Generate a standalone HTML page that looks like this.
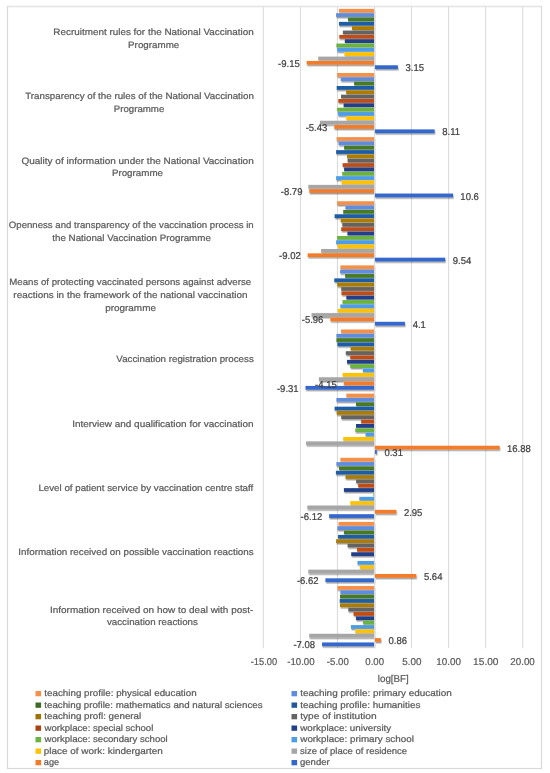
<!DOCTYPE html>
<html><head><meta charset="utf-8"><style>
html,body{margin:0;padding:0;background:#fff;}
body{width:550px;height:773px;position:relative;overflow:hidden;}
svg{position:absolute;left:0;top:0;font-family:"Liberation Sans",sans-serif;filter:blur(0.45px);}
</style></head><body>
<svg width="550" height="773" viewBox="0 0 550 773" text-rendering="geometricPrecision">
<defs><filter id="sh" x="-5%" y="-50%" width="110%" height="250%"><feDropShadow dx="0.6" dy="1.5" stdDeviation="0.75" flood-color="#000" flood-opacity="0.38"/></filter></defs>
<rect x="7.5" y="6.5" width="534" height="762" fill="#fff" stroke="#D9D9D9" stroke-width="1.2"/>
<line x1="8.2" y1="6.5" x2="540.8" y2="6.5" stroke="#E6E6E6" stroke-width="1.3"/>
<line x1="263.29" y1="6.88" x2="263.29" y2="648.18" stroke="#D9D9D9" stroke-width="1"/>
<line x1="300.36" y1="6.88" x2="300.36" y2="648.18" stroke="#D9D9D9" stroke-width="1"/>
<line x1="337.43" y1="6.88" x2="337.43" y2="648.18" stroke="#D9D9D9" stroke-width="1"/>
<line x1="374.50" y1="6.88" x2="374.50" y2="648.18" stroke="#D9D9D9" stroke-width="1"/>
<line x1="411.57" y1="6.88" x2="411.57" y2="648.18" stroke="#D9D9D9" stroke-width="1"/>
<line x1="448.64" y1="6.88" x2="448.64" y2="648.18" stroke="#D9D9D9" stroke-width="1"/>
<line x1="485.71" y1="6.88" x2="485.71" y2="648.18" stroke="#D9D9D9" stroke-width="1"/>
<line x1="522.78" y1="6.88" x2="522.78" y2="648.18" stroke="#D9D9D9" stroke-width="1"/>
<g filter="url(#sh)">
<rect x="339.00" y="8.85" width="35.50" height="3.75" fill="#F5904A"/>
<rect x="336.10" y="13.19" width="38.40" height="3.75" fill="#5F8CDD"/>
<rect x="348.00" y="17.53" width="26.50" height="3.75" fill="#477A27"/>
<rect x="339.00" y="21.87" width="35.50" height="3.75" fill="#1E5DA6"/>
<rect x="351.90" y="26.21" width="22.60" height="3.75" fill="#AC7B00"/>
<rect x="342.90" y="30.55" width="31.60" height="3.75" fill="#646464"/>
<rect x="339.30" y="34.89" width="35.20" height="3.75" fill="#C04D12"/>
<rect x="344.80" y="39.23" width="29.70" height="3.75" fill="#213F8A"/>
<rect x="336.40" y="43.57" width="38.10" height="3.75" fill="#6AB33F"/>
<rect x="337.20" y="47.91" width="37.30" height="3.75" fill="#4E9CE6"/>
<rect x="344.40" y="52.25" width="30.10" height="3.75" fill="#FFC200"/>
<rect x="318.20" y="56.59" width="56.30" height="3.75" fill="#A6A6A6"/>
<rect x="306.66" y="60.93" width="67.84" height="3.75" fill="#F27B2A"/>
<rect x="374.90" y="65.27" width="22.95" height="3.75" fill="#3467CC"/>
<rect x="337.10" y="72.98" width="37.40" height="3.75" fill="#F5904A"/>
<rect x="340.70" y="77.32" width="33.80" height="3.75" fill="#5F8CDD"/>
<rect x="354.10" y="81.66" width="20.40" height="3.75" fill="#477A27"/>
<rect x="336.70" y="86.00" width="37.80" height="3.75" fill="#1E5DA6"/>
<rect x="346.10" y="90.34" width="28.40" height="3.75" fill="#AC7B00"/>
<rect x="341.00" y="94.68" width="33.50" height="3.75" fill="#646464"/>
<rect x="338.30" y="99.02" width="36.20" height="3.75" fill="#C04D12"/>
<rect x="343.60" y="103.36" width="30.90" height="3.75" fill="#213F8A"/>
<rect x="337.10" y="107.70" width="37.40" height="3.75" fill="#6AB33F"/>
<rect x="338.10" y="112.04" width="36.40" height="3.75" fill="#4E9CE6"/>
<rect x="346.30" y="116.38" width="28.20" height="3.75" fill="#FFC200"/>
<rect x="319.90" y="120.72" width="54.60" height="3.75" fill="#A6A6A6"/>
<rect x="334.24" y="125.06" width="40.26" height="3.75" fill="#F27B2A"/>
<rect x="374.90" y="129.40" width="59.73" height="3.75" fill="#3467CC"/>
<rect x="336.70" y="137.11" width="37.80" height="3.75" fill="#F5904A"/>
<rect x="338.50" y="141.45" width="36.00" height="3.75" fill="#5F8CDD"/>
<rect x="344.10" y="145.79" width="30.40" height="3.75" fill="#477A27"/>
<rect x="336.10" y="150.13" width="38.40" height="3.75" fill="#1E5DA6"/>
<rect x="347.00" y="154.47" width="27.50" height="3.75" fill="#AC7B00"/>
<rect x="347.60" y="158.81" width="26.90" height="3.75" fill="#646464"/>
<rect x="342.60" y="163.15" width="31.90" height="3.75" fill="#C04D12"/>
<rect x="344.10" y="167.49" width="30.40" height="3.75" fill="#213F8A"/>
<rect x="342.20" y="171.83" width="32.30" height="3.75" fill="#6AB33F"/>
<rect x="336.10" y="176.17" width="38.40" height="3.75" fill="#4E9CE6"/>
<rect x="341.50" y="180.51" width="33.00" height="3.75" fill="#FFC200"/>
<rect x="308.30" y="184.85" width="66.20" height="3.75" fill="#A6A6A6"/>
<rect x="309.33" y="189.19" width="65.17" height="3.75" fill="#F27B2A"/>
<rect x="374.90" y="193.53" width="78.19" height="3.75" fill="#3467CC"/>
<rect x="337.10" y="201.24" width="37.40" height="3.75" fill="#F5904A"/>
<rect x="345.40" y="205.58" width="29.10" height="3.75" fill="#5F8CDD"/>
<rect x="343.20" y="209.92" width="31.30" height="3.75" fill="#477A27"/>
<rect x="334.60" y="214.26" width="39.90" height="3.75" fill="#1E5DA6"/>
<rect x="340.70" y="218.60" width="33.80" height="3.75" fill="#AC7B00"/>
<rect x="342.30" y="222.94" width="32.20" height="3.75" fill="#646464"/>
<rect x="341.20" y="227.28" width="33.30" height="3.75" fill="#C04D12"/>
<rect x="347.40" y="231.62" width="27.10" height="3.75" fill="#213F8A"/>
<rect x="337.10" y="235.96" width="37.40" height="3.75" fill="#6AB33F"/>
<rect x="336.10" y="240.30" width="38.40" height="3.75" fill="#4E9CE6"/>
<rect x="337.80" y="244.64" width="36.70" height="3.75" fill="#FFC200"/>
<rect x="321.10" y="248.98" width="53.40" height="3.75" fill="#A6A6A6"/>
<rect x="307.63" y="253.32" width="66.87" height="3.75" fill="#F27B2A"/>
<rect x="374.90" y="257.66" width="70.33" height="3.75" fill="#3467CC"/>
<rect x="340.40" y="265.37" width="34.10" height="3.75" fill="#F5904A"/>
<rect x="340.10" y="269.71" width="34.40" height="3.75" fill="#5F8CDD"/>
<rect x="345.10" y="274.05" width="29.40" height="3.75" fill="#477A27"/>
<rect x="334.30" y="278.39" width="40.20" height="3.75" fill="#1E5DA6"/>
<rect x="337.20" y="282.73" width="37.30" height="3.75" fill="#AC7B00"/>
<rect x="341.20" y="287.07" width="33.30" height="3.75" fill="#646464"/>
<rect x="341.50" y="291.41" width="33.00" height="3.75" fill="#C04D12"/>
<rect x="346.30" y="295.75" width="28.20" height="3.75" fill="#213F8A"/>
<rect x="342.50" y="300.09" width="32.00" height="3.75" fill="#6AB33F"/>
<rect x="340.30" y="304.43" width="34.20" height="3.75" fill="#4E9CE6"/>
<rect x="337.80" y="308.77" width="36.70" height="3.75" fill="#FFC200"/>
<rect x="311.60" y="313.11" width="62.90" height="3.75" fill="#A6A6A6"/>
<rect x="330.31" y="317.45" width="44.19" height="3.75" fill="#F27B2A"/>
<rect x="374.90" y="321.79" width="30.00" height="3.75" fill="#3467CC"/>
<rect x="341.00" y="329.50" width="33.50" height="3.75" fill="#F5904A"/>
<rect x="336.40" y="333.84" width="38.10" height="3.75" fill="#5F8CDD"/>
<rect x="336.40" y="338.18" width="38.10" height="3.75" fill="#477A27"/>
<rect x="337.40" y="342.52" width="37.10" height="3.75" fill="#1E5DA6"/>
<rect x="350.60" y="346.86" width="23.90" height="3.75" fill="#AC7B00"/>
<rect x="345.80" y="351.20" width="28.70" height="3.75" fill="#646464"/>
<rect x="350.20" y="355.54" width="24.30" height="3.75" fill="#C04D12"/>
<rect x="347.00" y="359.88" width="27.50" height="3.75" fill="#213F8A"/>
<rect x="350.20" y="364.22" width="24.30" height="3.75" fill="#6AB33F"/>
<rect x="362.80" y="368.56" width="11.70" height="3.75" fill="#4E9CE6"/>
<rect x="342.60" y="372.90" width="31.90" height="3.75" fill="#FFC200"/>
<rect x="318.90" y="377.24" width="55.60" height="3.75" fill="#A6A6A6"/>
<rect x="343.73" y="381.58" width="30.77" height="3.75" fill="#F27B2A"/>
<rect x="305.48" y="385.92" width="69.02" height="3.75" fill="#3467CC"/>
<rect x="346.30" y="393.63" width="28.20" height="3.75" fill="#F5904A"/>
<rect x="336.40" y="397.97" width="38.10" height="3.75" fill="#5F8CDD"/>
<rect x="356.00" y="402.31" width="18.50" height="3.75" fill="#477A27"/>
<rect x="334.60" y="406.65" width="39.90" height="3.75" fill="#1E5DA6"/>
<rect x="336.70" y="410.99" width="37.80" height="3.75" fill="#AC7B00"/>
<rect x="341.20" y="415.33" width="33.30" height="3.75" fill="#646464"/>
<rect x="361.10" y="419.67" width="13.40" height="3.75" fill="#C04D12"/>
<rect x="356.00" y="424.01" width="18.50" height="3.75" fill="#213F8A"/>
<rect x="355.30" y="428.35" width="19.20" height="3.75" fill="#6AB33F"/>
<rect x="365.50" y="432.69" width="9.00" height="3.75" fill="#4E9CE6"/>
<rect x="343.20" y="437.03" width="31.30" height="3.75" fill="#FFC200"/>
<rect x="306.10" y="441.37" width="68.40" height="3.75" fill="#A6A6A6"/>
<rect x="374.90" y="445.71" width="124.75" height="3.75" fill="#F27B2A"/>
<rect x="374.90" y="450.05" width="1.90" height="3.75" fill="#3467CC"/>
<rect x="340.40" y="457.76" width="34.10" height="3.75" fill="#F5904A"/>
<rect x="336.40" y="462.10" width="38.10" height="3.75" fill="#5F8CDD"/>
<rect x="339.00" y="466.44" width="35.50" height="3.75" fill="#477A27"/>
<rect x="335.90" y="470.78" width="38.60" height="3.75" fill="#1E5DA6"/>
<rect x="345.50" y="475.12" width="29.00" height="3.75" fill="#AC7B00"/>
<rect x="356.10" y="479.46" width="18.40" height="3.75" fill="#646464"/>
<rect x="358.20" y="483.80" width="16.30" height="3.75" fill="#C04D12"/>
<rect x="343.90" y="488.14" width="30.60" height="3.75" fill="#213F8A"/>
<rect x="373.40" y="492.48" width="1.10" height="3.75" fill="#6AB33F"/>
<rect x="359.30" y="496.82" width="15.20" height="3.75" fill="#4E9CE6"/>
<rect x="350.20" y="501.16" width="24.30" height="3.75" fill="#FFC200"/>
<rect x="307.30" y="505.50" width="67.20" height="3.75" fill="#A6A6A6"/>
<rect x="374.90" y="509.84" width="21.47" height="3.75" fill="#F27B2A"/>
<rect x="329.13" y="514.18" width="45.37" height="3.75" fill="#3467CC"/>
<rect x="338.50" y="521.89" width="36.00" height="3.75" fill="#F5904A"/>
<rect x="337.40" y="526.23" width="37.10" height="3.75" fill="#5F8CDD"/>
<rect x="343.90" y="530.57" width="30.60" height="3.75" fill="#477A27"/>
<rect x="338.10" y="534.91" width="36.40" height="3.75" fill="#1E5DA6"/>
<rect x="336.10" y="539.25" width="38.40" height="3.75" fill="#AC7B00"/>
<rect x="347.60" y="543.59" width="26.90" height="3.75" fill="#646464"/>
<rect x="357.00" y="547.93" width="17.50" height="3.75" fill="#C04D12"/>
<rect x="351.20" y="552.27" width="23.30" height="3.75" fill="#213F8A"/>
<rect x="357.50" y="560.95" width="17.00" height="3.75" fill="#4E9CE6"/>
<rect x="359.90" y="565.29" width="14.60" height="3.75" fill="#FFC200"/>
<rect x="308.30" y="569.63" width="66.20" height="3.75" fill="#A6A6A6"/>
<rect x="374.90" y="573.97" width="41.41" height="3.75" fill="#F27B2A"/>
<rect x="325.42" y="578.31" width="49.08" height="3.75" fill="#3467CC"/>
<rect x="337.50" y="586.02" width="37.00" height="3.75" fill="#F5904A"/>
<rect x="340.40" y="590.36" width="34.10" height="3.75" fill="#5F8CDD"/>
<rect x="340.00" y="594.70" width="34.50" height="3.75" fill="#477A27"/>
<rect x="339.70" y="599.04" width="34.80" height="3.75" fill="#1E5DA6"/>
<rect x="340.00" y="603.38" width="34.50" height="3.75" fill="#AC7B00"/>
<rect x="348.30" y="607.72" width="26.20" height="3.75" fill="#646464"/>
<rect x="353.50" y="612.06" width="21.00" height="3.75" fill="#C04D12"/>
<rect x="356.00" y="616.40" width="18.50" height="3.75" fill="#213F8A"/>
<rect x="363.00" y="620.74" width="11.50" height="3.75" fill="#6AB33F"/>
<rect x="350.90" y="625.08" width="23.60" height="3.75" fill="#4E9CE6"/>
<rect x="355.30" y="629.42" width="19.20" height="3.75" fill="#FFC200"/>
<rect x="309.20" y="633.76" width="65.30" height="3.75" fill="#A6A6A6"/>
<rect x="374.90" y="638.10" width="5.98" height="3.75" fill="#F27B2A"/>
<rect x="322.01" y="642.44" width="52.49" height="3.75" fill="#3467CC"/>
</g>
<line x1="374.5" y1="6.88" x2="374.5" y2="648.18" stroke="#D9D9D9" stroke-width="1"/>
<g font-size="9.9" fill="#404040" stroke="#404040" stroke-width="0.22">
<text x="278.04" y="66.91" textLength="21.72" lengthAdjust="spacingAndGlyphs">-9.15</text>
<text x="405.49" y="71.25" textLength="18.55" lengthAdjust="spacingAndGlyphs">3.15</text>
<text x="305.64" y="131.03" textLength="21.72" lengthAdjust="spacingAndGlyphs">-5.43</text>
<text x="442.21" y="135.37" textLength="17.84" lengthAdjust="spacingAndGlyphs">8.11</text>
<text x="280.76" y="195.16" textLength="21.72" lengthAdjust="spacingAndGlyphs">-8.79</text>
<text x="460.36" y="199.50" textLength="18.55" lengthAdjust="spacingAndGlyphs">10.6</text>
<text x="279.09" y="259.30" textLength="21.72" lengthAdjust="spacingAndGlyphs">-9.02</text>
<text x="452.78" y="263.63" textLength="18.55" lengthAdjust="spacingAndGlyphs">9.54</text>
<text x="301.71" y="323.42" textLength="21.72" lengthAdjust="spacingAndGlyphs">-5.96</text>
<text x="412.68" y="327.76" textLength="13.25" lengthAdjust="spacingAndGlyphs">4.1</text>
<text x="315.11" y="387.55" textLength="21.72" lengthAdjust="spacingAndGlyphs">-4.15</text>
<text x="276.92" y="391.89" textLength="21.72" lengthAdjust="spacingAndGlyphs">-9.31</text>
<text x="506.92" y="451.68" textLength="23.85" lengthAdjust="spacingAndGlyphs">16.88</text>
<text x="384.43" y="456.02" textLength="18.55" lengthAdjust="spacingAndGlyphs">0.31</text>
<text x="403.89" y="515.81" textLength="18.55" lengthAdjust="spacingAndGlyphs">2.95</text>
<text x="300.59" y="520.15" textLength="21.72" lengthAdjust="spacingAndGlyphs">-6.12</text>
<text x="423.93" y="579.95" textLength="18.55" lengthAdjust="spacingAndGlyphs">5.64</text>
<text x="296.88" y="584.28" textLength="21.72" lengthAdjust="spacingAndGlyphs">-6.62</text>
<text x="388.50" y="644.08" textLength="18.55" lengthAdjust="spacingAndGlyphs">0.86</text>
<text x="293.40" y="648.41" textLength="21.72" lengthAdjust="spacingAndGlyphs">-7.08</text>
</g>
<g font-size="10" fill="#595959" stroke="#595959" stroke-width="0.22">
<text x="250.69" y="664.8" textLength="26.38" lengthAdjust="spacingAndGlyphs">-15.00</text>
<text x="287.17" y="664.8" textLength="27.41" lengthAdjust="spacingAndGlyphs">-10.00</text>
<text x="326.87" y="664.8" textLength="21.90" lengthAdjust="spacingAndGlyphs">-5.00</text>
<text x="365.33" y="664.8" textLength="18.65" lengthAdjust="spacingAndGlyphs">0.00</text>
<text x="402.21" y="664.8" textLength="19.18" lengthAdjust="spacingAndGlyphs">5.00</text>
<text x="436.25" y="664.8" textLength="24.74" lengthAdjust="spacingAndGlyphs">10.00</text>
<text x="473.13" y="664.8" textLength="25.37" lengthAdjust="spacingAndGlyphs">15.00</text>
<text x="510.31" y="664.8" textLength="24.47" lengthAdjust="spacingAndGlyphs">20.00</text>
<text x="377.84" y="682.0" textLength="30.95" lengthAdjust="spacingAndGlyphs">log[BF]</text>
</g>
<rect x="35.5" y="691.00" width="5.6" height="5.3" fill="#F5904A"/>
<rect x="291.5" y="691.00" width="5.6" height="5.3" fill="#5F8CDD"/>
<rect x="35.5" y="702.50" width="5.6" height="5.3" fill="#3F6A28"/>
<rect x="291.5" y="702.50" width="5.6" height="5.3" fill="#22589A"/>
<rect x="35.5" y="714.00" width="5.6" height="5.3" fill="#9E7400"/>
<rect x="291.5" y="714.00" width="5.6" height="5.3" fill="#646464"/>
<rect x="35.5" y="725.50" width="5.6" height="5.3" fill="#A8440F"/>
<rect x="291.5" y="725.50" width="5.6" height="5.3" fill="#213F8A"/>
<rect x="35.5" y="737.00" width="5.6" height="5.3" fill="#6AB33F"/>
<rect x="291.5" y="737.00" width="5.6" height="5.3" fill="#4E9CE6"/>
<rect x="35.5" y="748.50" width="5.6" height="5.3" fill="#FFC200"/>
<rect x="291.5" y="748.50" width="5.6" height="5.3" fill="#A6A6A6"/>
<rect x="35.5" y="760.00" width="5.6" height="5.3" fill="#F27B2A"/>
<rect x="291.5" y="760.00" width="5.6" height="5.3" fill="#3467CC"/>
<g font-size="9.0" fill="#595959" stroke="#595959" stroke-width="0.22">
<text x="44.35" y="696.30" textLength="152.28" lengthAdjust="spacingAndGlyphs">teaching profile: physical education</text>
<text x="300.15" y="696.30" textLength="151.69" lengthAdjust="spacingAndGlyphs">teaching profile: primary education</text>
<text x="44.35" y="707.80" textLength="218.20" lengthAdjust="spacingAndGlyphs">teaching profile: mathematics and natural sciences</text>
<text x="300.15" y="707.80" textLength="120.31" lengthAdjust="spacingAndGlyphs">teaching profile: humanities</text>
<text x="44.35" y="719.30" textLength="96.90" lengthAdjust="spacingAndGlyphs">teaching profl: general</text>
<text x="300.15" y="719.30" textLength="76.52" lengthAdjust="spacingAndGlyphs">type of institution</text>
<text x="44.51" y="730.80" textLength="108.83" lengthAdjust="spacingAndGlyphs">workplace: special school</text>
<text x="300.31" y="730.80" textLength="90.90" lengthAdjust="spacingAndGlyphs">workplace: university</text>
<text x="44.51" y="742.30" textLength="123.23" lengthAdjust="spacingAndGlyphs">workplace: secondary school</text>
<text x="300.31" y="742.30" textLength="113.54" lengthAdjust="spacingAndGlyphs">workplace: primary school</text>
<text x="43.86" y="753.80" textLength="118.98" lengthAdjust="spacingAndGlyphs">place of work: kindergarten</text>
<text x="300.04" y="753.80" textLength="107.09" lengthAdjust="spacingAndGlyphs">size of place of residence</text>
<text x="43.81" y="765.30" textLength="15.30" lengthAdjust="spacingAndGlyphs">age</text>
<text x="299.90" y="765.30" textLength="29.86" lengthAdjust="spacingAndGlyphs">gender</text>
</g>
<g font-size="9.2" fill="#595959" stroke="#595959" stroke-width="0.22">
<text x="53.39" y="35.36" textLength="200.46" lengthAdjust="spacingAndGlyphs">Recruitment rules for the National Vaccination</text>
<text x="128.10" y="48.16" textLength="51.14" lengthAdjust="spacingAndGlyphs">Programme</text>
<text x="25.18" y="99.48" textLength="228.66" lengthAdjust="spacingAndGlyphs">Transparency of the rules of the National Vaccination</text>
<text x="113.81" y="112.28" textLength="50.52" lengthAdjust="spacingAndGlyphs">Programme</text>
<text x="21.53" y="163.61" textLength="232.22" lengthAdjust="spacingAndGlyphs">Quality of information under the National Vaccination</text>
<text x="111.90" y="176.41" textLength="51.14" lengthAdjust="spacingAndGlyphs">Programme</text>
<text x="8.84" y="227.74" textLength="244.88" lengthAdjust="spacingAndGlyphs">Openness and transparency of the vaccination process in</text>
<text x="52.25" y="240.54" textLength="158.58" lengthAdjust="spacingAndGlyphs">the National Vaccination Programme</text>
<text x="9.21" y="285.47" textLength="241.92" lengthAdjust="spacingAndGlyphs">Means of protecting vaccinated persons against adverse</text>
<text x="13.34" y="298.27" textLength="234.21" lengthAdjust="spacingAndGlyphs">reactions in the framework of the national vaccination</text>
<text x="105.16" y="311.07" textLength="50.78" lengthAdjust="spacingAndGlyphs">programme</text>
<text x="116.36" y="362.40" textLength="137.40" lengthAdjust="spacingAndGlyphs">Vaccination registration process</text>
<text x="72.18" y="426.53" textLength="181.37" lengthAdjust="spacingAndGlyphs">Interview and qualification for vaccination</text>
<text x="38.40" y="490.66" textLength="214.89" lengthAdjust="spacingAndGlyphs">Level of patient service by vaccination centre staff</text>
<text x="18.29" y="554.79" textLength="235.36" lengthAdjust="spacingAndGlyphs">Information received on possible vaccination reactions</text>
<text x="49.98" y="612.52" textLength="203.36" lengthAdjust="spacingAndGlyphs">Information received on how to deal with post-</text>
<text x="106.97" y="625.32" textLength="90.89" lengthAdjust="spacingAndGlyphs">vaccination reactions</text>
</g>
</svg></body></html>
